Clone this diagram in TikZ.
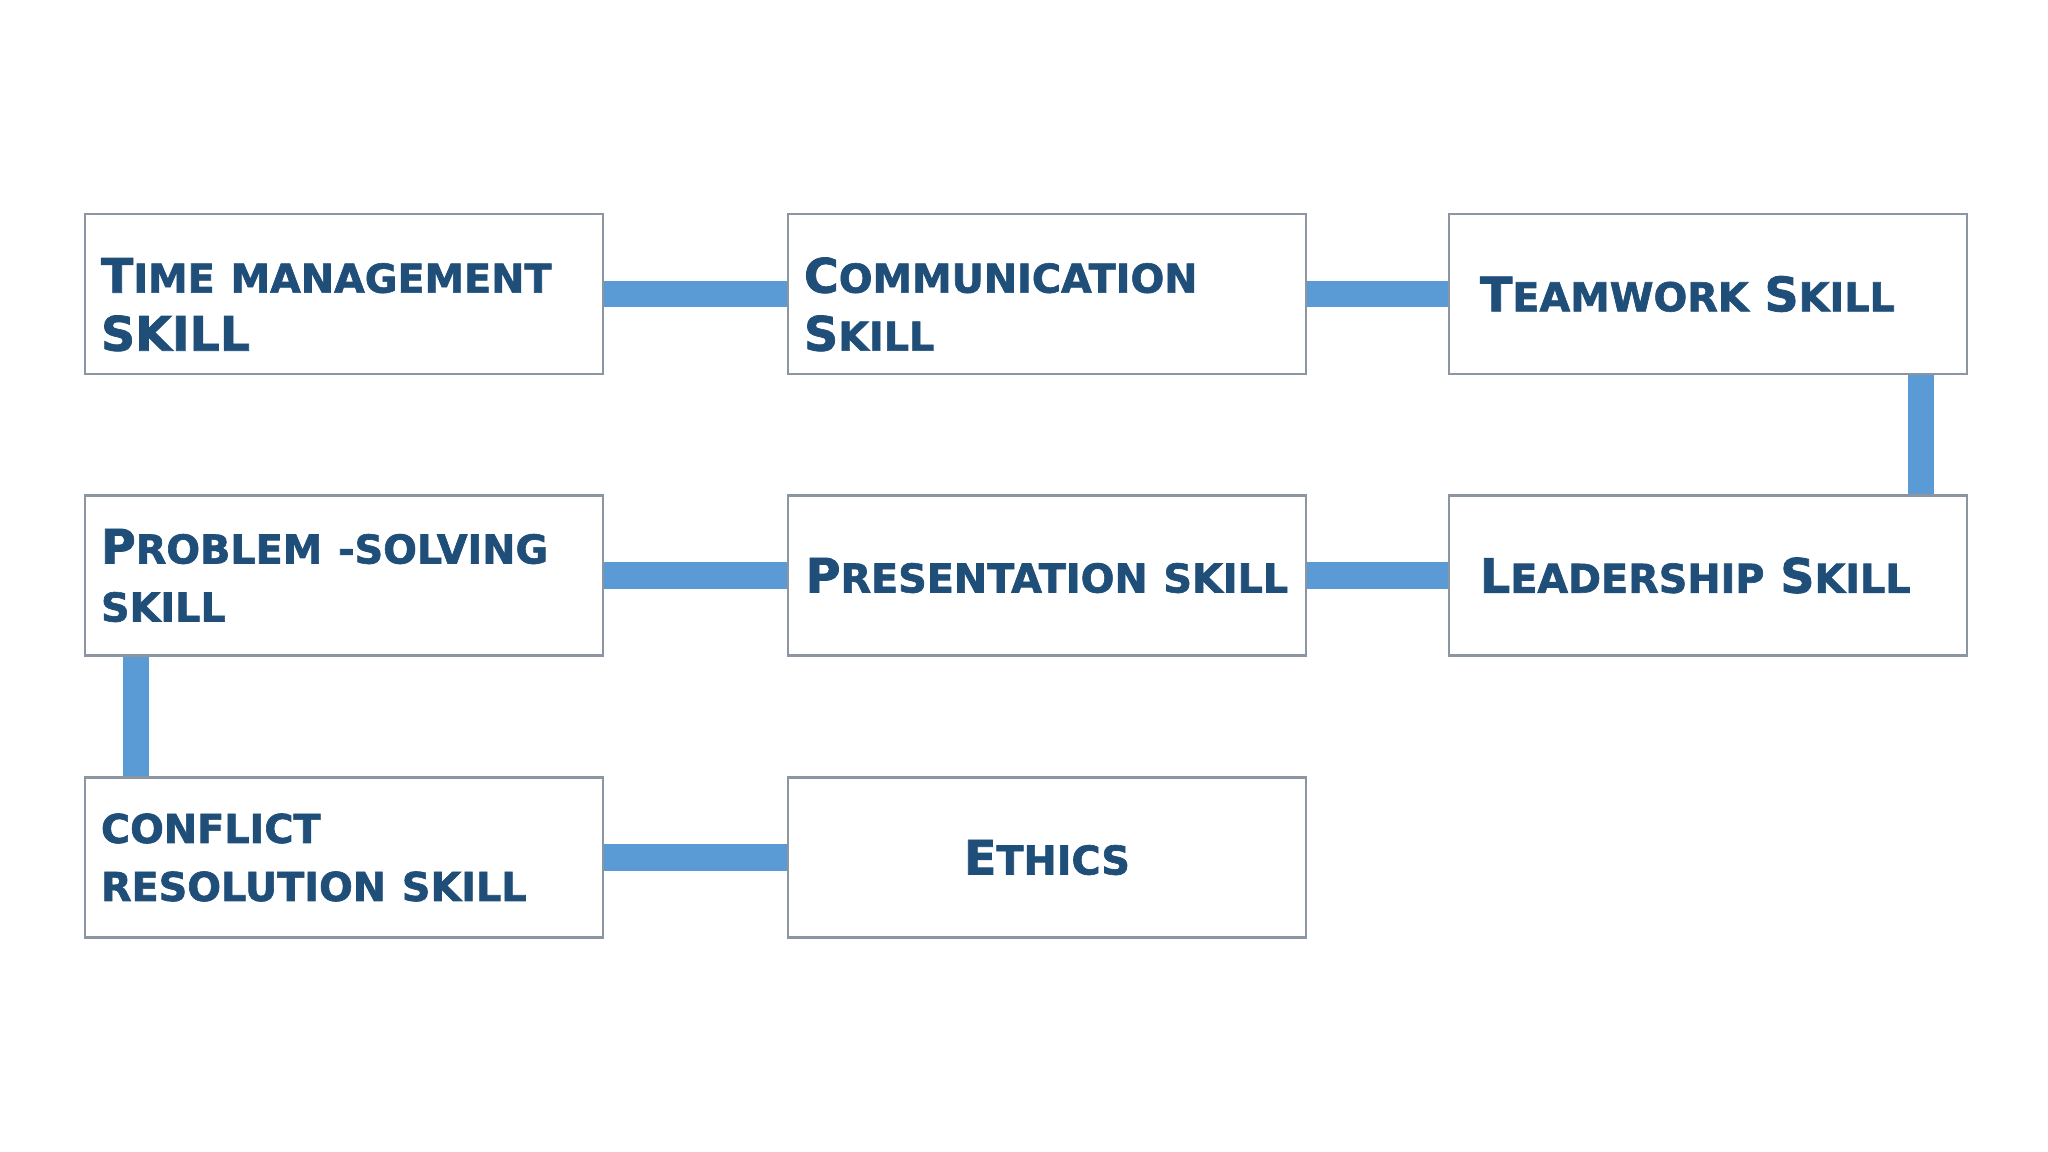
\documentclass[tikz,border=0pt]{standalone}
\usepackage{fontspec}
\setmainfont{DejaVu Sans}[BoldFeatures={FakeBold=1.6}]
\usetikzlibrary{positioning}
\definecolor{skilltext}{RGB}{31,78,121}
\definecolor{skilllink}{RGB}{91,155,213}
\definecolor{skillframe}{RGB}{140,150,162}
\newcommand{\sk}[1]{{\fontsize{11.3}{16.5}\selectfont\MakeUppercase{#1}}}

\begin{document}
\begin{tikzpicture}[
    skill/.style={draw=skillframe, line width=0.6pt, fill=white,
      minimum width=5.18cm, minimum height=1.6cm, inner xsep=0.16cm,
      text width=4.86cm, text=skilltext,
      font=\fontsize{13.5}{16.5}\selectfont\bfseries},
    wide/.style={inner xsep=0.31cm, text width=4.56cm},
    link/.style={draw=skilllink, line width=7.6pt}]
    \useasboundingbox (0, 0) rectangle (20.48, 11.52);
    \path (3.44, 8.58) node [skill, align=left] (tm) {\rule{0pt}{5.6mm}T\sk{ime management}\\SKILL};
    \path (10.47, 8.58) node [skill, align=left] (co) {\rule{0pt}{5.6mm}C\sk{ommunication}\\S\sk{kill}};
    \path (17.08, 8.58) node [skill, wide, align=left] (tw) {T\sk{eamwork} S\sk{kill}};
    \draw [link] (tm) -- (co);
    \draw [link] (co) -- (tw);

    \path (17.08, 5.765) node [skill, wide, align=left] (le) {L\sk{eadership} S\sk{kill}};
    \path (10.47, 5.765) node [skill, align=center, inner xsep=0.04cm, text width=5.1cm] (pr) {P\sk{resentation skill}};
    \path (3.44, 5.765) node [skill, align=left] (ps) {P\sk{roblem -solving}\\\sk{skill}};
    \draw [link] ([xshift=-4.7mm]tw.south east) -- ([xshift=-4.7mm]le.north east);
    \draw [link] (le) -- (pr);
    \draw [link] (pr) -- (ps);

    \path (3.44, 2.945) node [skill, align=left] (cf) {\sk{conflict}\\\sk{resolution skill}};
    \path (10.47, 2.945) node [skill, align=center] (et) {E\sk{thics}};
    \draw [link] ([xshift=5.2mm]ps.south west) -- ([xshift=5.2mm]cf.north west);
    \draw [link] (cf) -- (et);
\end{tikzpicture}
\end{document}
